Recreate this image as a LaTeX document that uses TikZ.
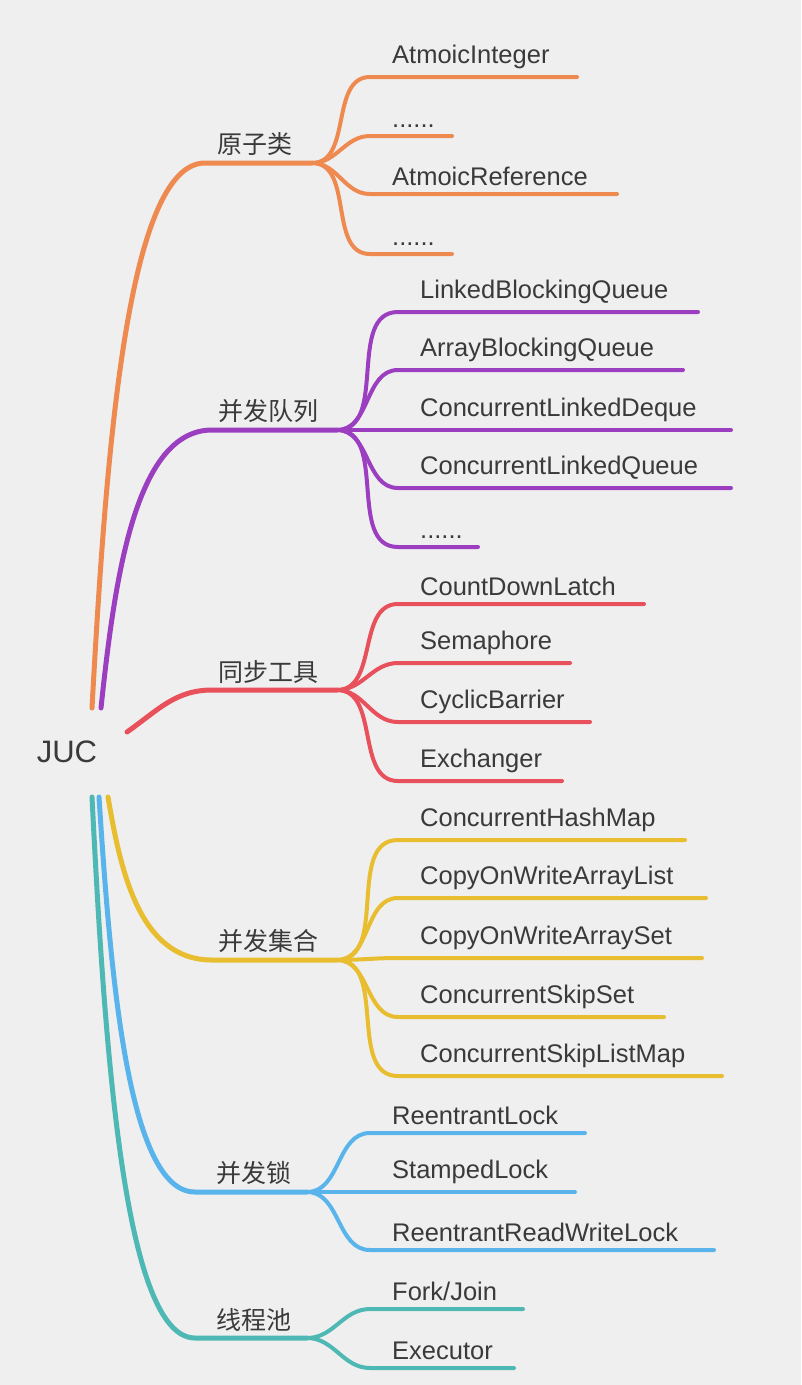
\documentclass[tikz,border=0pt]{standalone}
\usepackage{fontspec}
\setmainfont{Liberation Sans}
\newfontfamily\cjk{Noto Sans CJK SC}
\definecolor{bg}{HTML}{EFEFEF}
\definecolor{txt}{HTML}{3A3A3A}
\definecolor{cO}{HTML}{EE8A4F}
\definecolor{cP}{HTML}{9B3FC0}
\definecolor{cR}{HTML}{E8505B}
\definecolor{cY}{HTML}{E8BD30}
\definecolor{cB}{HTML}{5AB4EC}
\definecolor{cT}{HTML}{4DB8B4}
\tikzset{
 mainline/.style={line width=5pt,line cap=round},
 kidline/.style={line width=4pt,line cap=round},
 cat/.style={font=\cjk\fontsize{25}{28}\selectfont,text=txt,anchor=south,inner sep=2pt},
 kid/.style={font=\fontsize{25.5}{29}\selectfont,text=txt,anchor=south west,inner sep=0pt}
}
\newcommand\kidnode[7]{%
 \coordinate (#7a) at (#3-22,#4);
 \coordinate (#7b) at (#5,#4);
 \node[kid] (#7) at (#3,#4-8) {#6};
 \draw[kidline,#1] (#2) to[out=0,in=180] (#7a) -- (#7b);
}
\newcommand\mainbranch[8]{%
 \coordinate (#7) at (#2,#3); \coordinate (#8) at (#4,#5); \coordinate (#8f) at (#6,#5);
 \draw[mainline,#1] (#7) .. controls ({#2+0.12*(#4-#2)},{#3-0.45*(#3-#5)}) and ({#2+0.3*(#4-#2)},#5) .. (#8) -- (#8f);
}
\begin{document}
\begin{tikzpicture}[x=1pt,y=-1pt]
\fill[bg] (0,0) rectangle (801,1385);
\useasboundingbox (0,0) rectangle (801,1385);
\node[font=\fontsize{31}{34}\selectfont,text=txt] (juc) at (67,752) {JUC};
\mainbranch{cO}{92}{708}{205}{163}{312}{s1}{l1}
\node[cat] (n1) at (255,158) {原子类};
\kidnode{cO}{l1f}{392}{77}{577}{AtmoicInteger}{k11}
\kidnode{cO}{l1f}{392}{136}{452}{......}{k12}
\kidnode{cO}{l1f}{392}{194}{617}{AtmoicReference}{k13}
\kidnode{cO}{l1f}{392}{254}{452}{......}{k14}
\mainbranch{cP}{101}{708}{212}{430}{337}{s2}{l2}
\node[cat] (n2) at (268,425) {并发队列};
\kidnode{cP}{l2f}{420}{312}{698}{LinkedBlockingQueue}{k21}
\kidnode{cP}{l2f}{420}{370}{683}{ArrayBlockingQueue}{k22}
\kidnode{cP}{l2f}{420}{430}{731}{ConcurrentLinkedDeque}{k23}
\kidnode{cP}{l2f}{420}{488}{731}{ConcurrentLinkedQueue}{k24}
\kidnode{cP}{l2f}{420}{547}{478}{......}{k25}
\coordinate (s3) at (127,732); \coordinate (l3) at (212,690); \coordinate (l3f) at (337,690);
\draw[mainline,cR] (s3) to[out=35,in=180] (l3) -- (l3f);
\node[cat] (n3) at (268,686) {同步工具};
\kidnode{cR}{l3f}{420}{604}{644}{CountDownLatch}{k31}
\kidnode{cR}{l3f}{420}{663}{570}{Semaphore}{k32}
\kidnode{cR}{l3f}{420}{722}{590}{CyclicBarrier}{k33}
\kidnode{cR}{l3f}{420}{781}{562}{Exchanger}{k34}
\mainbranch{cY}{108}{797}{212}{960}{337}{s4}{l4}
\node[cat] (n4) at (268,955) {并发集合};
\kidnode{cY}{l4f}{420}{840}{685}{ConcurrentHashMap}{k41}
\kidnode{cY}{l4f}{420}{898}{706}{CopyOnWriteArrayList}{k42}
\kidnode{cY}{l4f}{420}{958}{702}{CopyOnWriteArraySet}{k43}
\kidnode{cY}{l4f}{420}{1017}{664}{ConcurrentSkipSet}{k44}
\kidnode{cY}{l4f}{420}{1076}{722}{ConcurrentSkipListMap}{k45}
\mainbranch{cB}{99}{797}{195}{1192}{307}{s5}{l5}
\node[cat] (n5) at (254,1187) {并发锁};
\kidnode{cB}{l5f}{392}{1133}{585}{ReentrantLock}{k51}
\kidnode{cB}{l5f}{392}{1192}{575}{StampedLock}{k52}
\kidnode{cB}{l5f}{392}{1250}{714}{ReentrantReadWriteLock}{k53}
\mainbranch{cT}{92}{797}{195}{1338}{307}{s6}{l6}
\node[cat] (n6) at (254,1334) {线程池};
\kidnode{cT}{l6f}{392}{1309}{523}{Fork/Join}{k61}
\kidnode{cT}{l6f}{392}{1368}{514}{Executor}{k62}
\end{tikzpicture}
\end{document}
